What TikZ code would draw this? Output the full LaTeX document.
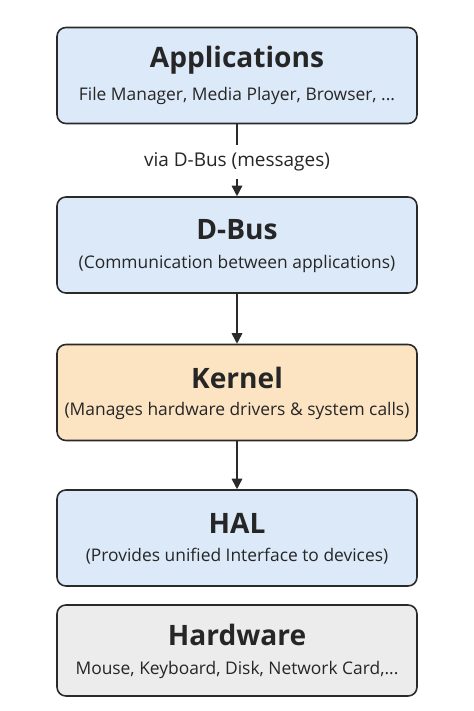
\documentclass[tikz,border=0pt]{standalone}
\usepackage{fontspec}
\setmainfont{Open Sans}
\usepackage{tikz}
\usetikzlibrary{arrows.meta}

\definecolor{appblue}{HTML}{DCE9F8}
\definecolor{kernorange}{HTML}{FCE3C2}
\definecolor{hwgray}{HTML}{ECECEC}
\definecolor{edgegray}{HTML}{2A2A2A}

\tikzset{
  layer/.style={draw=edgegray, line width=0.9pt, rounded corners=5pt,
    minimum width=7.2cm, minimum height=1.92cm},
  ttl/.style={font=\fontsize{16}{18}\selectfont\bfseries, text=black!85},
  sub/.style={font=\fontsize{9.9}{12}\selectfont, text=black!85},
  link/.style={draw=edgegray, line width=0.9pt},
}

\begin{document}
\begin{tikzpicture}[x=0.02cm, y=-0.02cm]

  \newcommand\C{237};

  \useasboundingbox[fill=white] (0, 0) rectangle (474, 711);

  %% layers
  \node[layer, fill=appblue] (apps) at (\C, 75.5) {};
  \node[layer, fill=appblue] (dbus) at (\C, 245) {};
  \node[layer, fill=kernorange] (kernel) at (\C, 392.5) {};
  \node[layer, fill=appblue] (hal) at (\C, 538) {};
  \node[layer, fill=hwgray, minimum height=1.82cm] (hw) at (\C, 650.5) {};

  %% texts
  \node[ttl] (appsT) at (\C, 60) {Applications};
  \node[sub] (appsS) at (\C, 96) {File Manager, Media Player, Browser, ...};
  \node[ttl] (dbusT) at (\C, 230) {D-Bus};
  \node[sub] (dbusS) at (\C, 264) {(Communication between applications)};
  \node[ttl] (kernelT) at (\C, 378) {Kernel};
  \node[sub] (kernelS) at (\C, 411) {(Manages hardware drivers \& system calls)};
  \node[ttl] (halT) at (\C, 523) {HAL};
  \node[sub] (halS) at (\C, 556) {(Provides unified Interface to devices)};
  \node[ttl] (hwT) at (\C, 635) {Hardware};
  \node[sub] (hwS) at (\C, 670) {Mouse, Keyboard, Disk, Network Card,...};

  %% arrows
  \node[sub, font=\fontsize{10.8}{12}\selectfont, inner sep=4pt] (via) at (\C, 162) {via D-Bus (messages)};
  \draw[link] (apps.south) -- (via.north); % apps -- label
  \draw[link, -{Triangle[length=6pt, width=6pt]}] (via.south) -- (dbus.north); % label -> dbus
  \draw[link, -{Triangle[length=6pt, width=6pt]}] (dbus.south) -- (kernel.north); % dbus -> kernel
  \draw[link, -{Triangle[length=6pt, width=6pt]}] (kernel.south) -- (hal.north); % kernel -> hal

\end{tikzpicture}
\end{document}
